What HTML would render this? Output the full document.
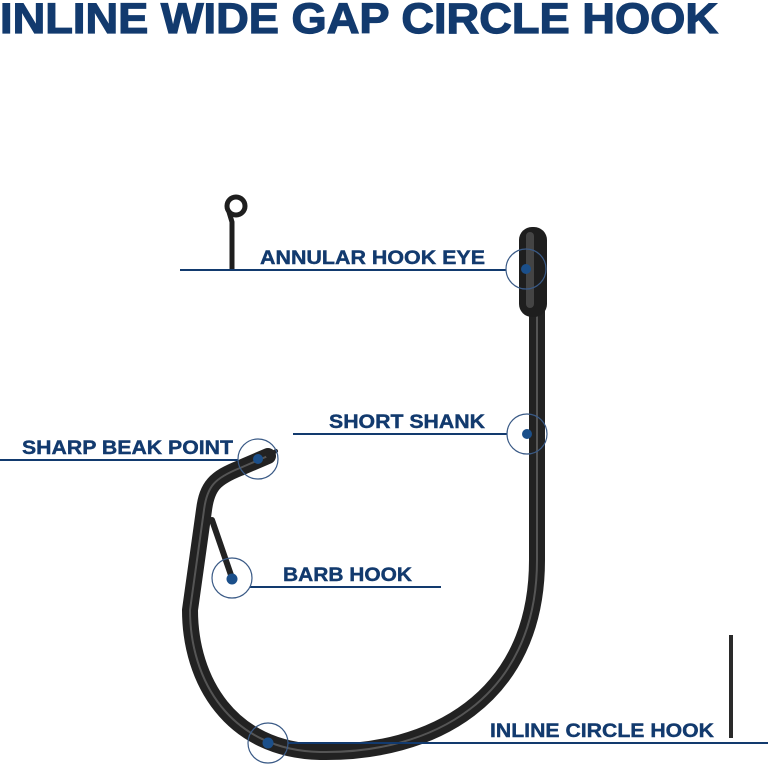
<!DOCTYPE html>
<html><head><meta charset="utf-8"><style>html,body{margin:0;padding:0;background:#fff}svg{display:block}</style></head>
<body>
<svg width="768" height="768" viewBox="0 0 768 768" xmlns="http://www.w3.org/2000/svg">
<rect width="768" height="768" fill="#fff"/>
<text x="0" y="33" font-family="Liberation Sans, sans-serif" font-weight="bold" font-size="43" fill="#123a6e" stroke="#123a6e" stroke-width="1.2" textLength="718" lengthAdjust="spacingAndGlyphs">INLINE WIDE GAP CIRCLE HOOK</text>

<!-- small eye hook -->
<circle cx="236" cy="206" r="9" fill="none" stroke="#1e1e1e" stroke-width="5"/>
<path d="M229 212 L232 222 L232 270" fill="none" stroke="#1e1e1e" stroke-width="5"/>
<!-- small inline hook -->
<path d="M731 635 L731 738" stroke="#2a2a2a" stroke-width="4"/>

<!-- main hook -->
<g fill="none" stroke-linecap="round" stroke-linejoin="round">
<path d="M537 240 L537 560 C537 700 430 754 320 752 C230 750 190 680 190 610 L204 510 C207 486 215 478 240 468 L268 456" stroke="#222" stroke-width="16"/>
<path d="M537 240 L537 560 C537 700 430 754 320 752 C230 750 190 680 190 610 L204 510 C207 486 215 478 240 468 L268 456" stroke="#555" stroke-width="2"/>
<path d="M212 520 L232 578" stroke="#222" stroke-width="6"/>
<path d="M268 456 L276 451" stroke="#222" stroke-width="4"/>
</g>
<rect x="519" y="227" width="28" height="90" rx="13" fill="#1e1e1e"/>
<rect x="526" y="232" width="8" height="76" rx="4" fill="#444"/>

<!-- label lines and markers -->
<g stroke="#123a6e" stroke-width="2" fill="none">
<line x1="180" y1="270" x2="506" y2="270"/>
<line x1="293" y1="434" x2="507" y2="434"/>
<line x1="0" y1="460" x2="238" y2="460"/>
<line x1="250" y1="587" x2="441" y2="587"/>
<line x1="288" y1="743" x2="768" y2="743"/>
<g stroke-width="1.2" stroke="#3a5a86">
<circle cx="526" cy="269" r="20"/>
<circle cx="527" cy="434" r="20"/>
<circle cx="258" cy="459" r="20"/>
<circle cx="232" cy="578" r="20"/>
<circle cx="268" cy="743" r="20"/>
</g>
</g>
<g fill="#1b4f8a">
<circle cx="526" cy="269" r="5"/>
<circle cx="527" cy="434" r="5"/>
<circle cx="258" cy="459" r="5"/>
<circle cx="232" cy="579" r="5.5"/>
<circle cx="268" cy="743" r="5.5"/>
</g>

<g font-family="Liberation Sans, sans-serif" font-weight="bold" font-size="19" fill="#123a6e" stroke="#123a6e" stroke-width="0.4">
<text x="260" y="264" textLength="225" lengthAdjust="spacingAndGlyphs">ANNULAR HOOK EYE</text>
<text x="329" y="428" textLength="156" lengthAdjust="spacingAndGlyphs">SHORT SHANK</text>
<text x="22" y="454" textLength="211" lengthAdjust="spacingAndGlyphs">SHARP BEAK POINT</text>
<text x="283" y="581" textLength="129" lengthAdjust="spacingAndGlyphs">BARB HOOK</text>
<text x="490" y="737" textLength="224" lengthAdjust="spacingAndGlyphs">INLINE CIRCLE HOOK</text>
</g>
</svg>
</body></html>
